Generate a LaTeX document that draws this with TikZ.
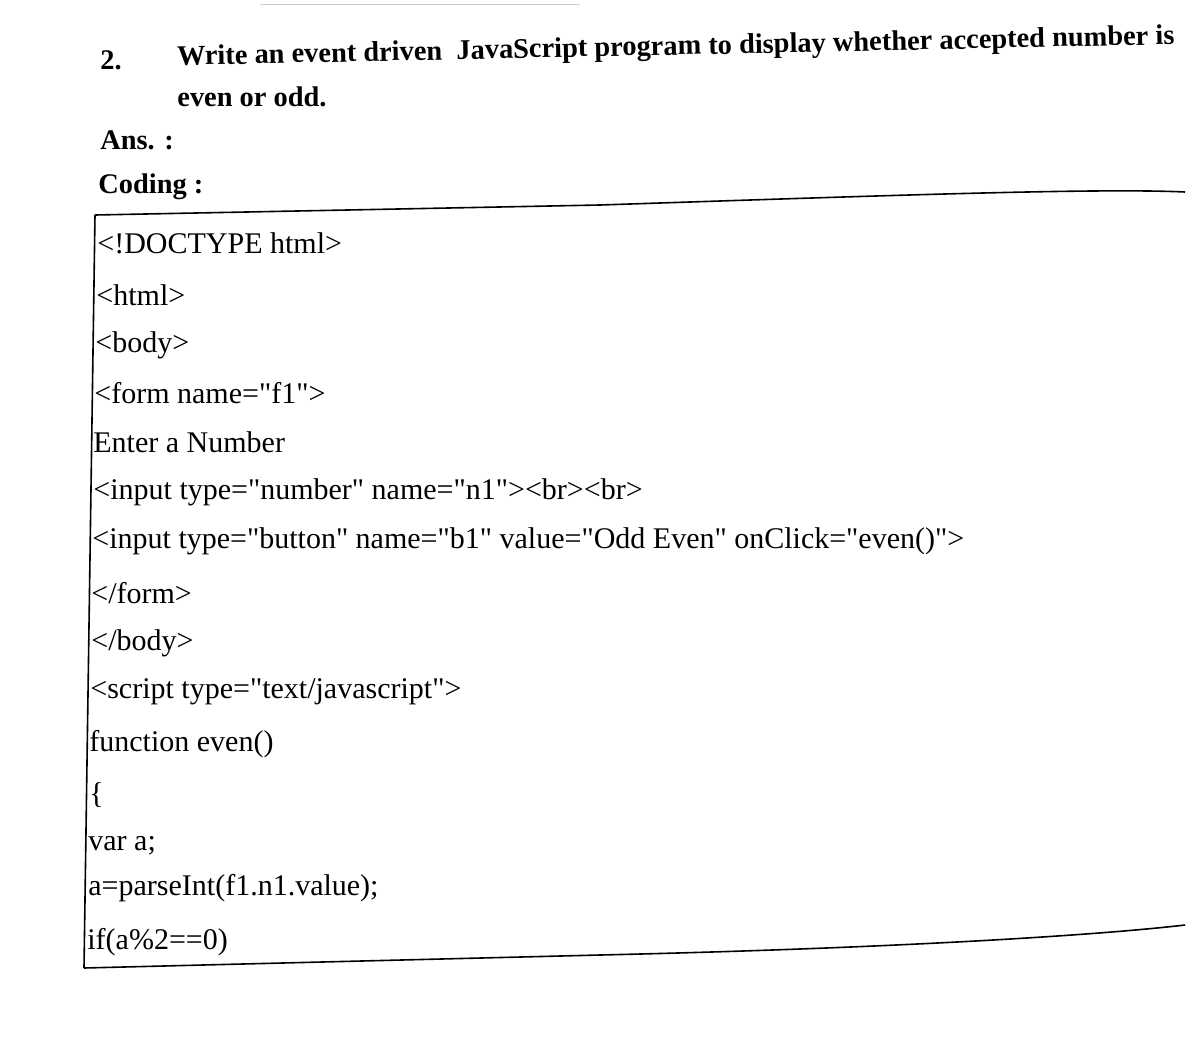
\documentclass[tikz,border=0pt]{standalone}
\usepackage{fontspec}
\setmainfont{Liberation Serif}[Ligatures=TeXOff]
\begin{document}
\begin{tikzpicture}[x=0.5pt,y=-0.5pt,
  code/.style={anchor=west,inner sep=0pt,font=\fontsize{15}{17}\selectfont},
  head/.style={anchor=west,inner sep=0pt,font=\bfseries\fontsize{14.2}{16}\selectfont}]
\useasboundingbox (0,0) rectangle (1200,1060);
\draw[gray!40] (260,4) -- (580,4);
\node[head] (n) at (100,60) {2.};
\node[head,rotate=1.2,anchor=south west] (t1) at (177,72) {Write an event driven\ \ JavaScript program to display whether accepted number is};
\node[head] (t2) at (177,97) {even or odd.};
\node[head] (a) at (100,140) {Ans. :};
\node[head] (c) at (98,187) {Coding :};
\draw[line width=0.8pt] (95,215) -- (600,205) .. controls (900,195) and (1100,188) .. (1185,192);
\draw[line width=0.8pt] (95,215) -- (84,968);
\draw[line width=0.8pt] (84,968) -- (600,955) .. controls (900,948) and (1100,935) .. (1185,925);
\node[code] (l1) at (97,243) {<!DOCTYPE html>};
\node[code] (l2) at (96,295) {<html>};
\node[code] (l3) at (95,345) {<body>};
\node[code] (l4) at (94,393) {<form name="f1">};
\node[code] (l5) at (93,442) {Enter a Number};
\node[code] (l6) at (93,492) {<input type="number" name="n1"><br><br>};
\node[code] (l7) at (92,541) {<input type="button" name="b1" value="Odd Even" onClick="even()">};
\node[code] (l8) at (91,593) {</form>};
\node[code] (l9) at (91,643) {</body>};
\node[code] (l10) at (90,692) {<script type="text/javascript">};
\node[code] (l11) at (89,744) {function even()};
\node[code] (l12) at (89,795) {\{};
\node[code] (l13) at (88,846) {var a;};
\node[code] (l14) at (88,888) {a=parseInt(f1.n1.value);};
\node[code] (l15) at (87,942) {if(a\%2==0)};
\end{tikzpicture}
\end{document}
